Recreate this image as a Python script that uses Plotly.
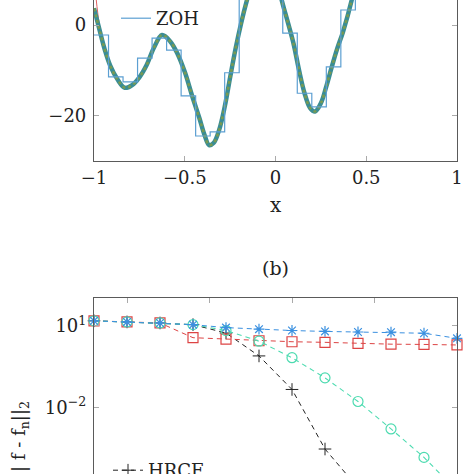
import plotly.graph_objects as go

# ---------------- panel (a): function, interpolant and ZOH ----------------
curve_x = [-1.0, -0.97, -0.94, -0.91, -0.87, -0.83, -0.79, -0.75, -0.71, -0.67,
           -0.625, -0.58, -0.54, -0.50, -0.46, -0.42, -0.39, -0.366, -0.34, -0.31,
           -0.28, -0.25, -0.22, -0.19, -0.157, -0.12, -0.08, -0.04, 0.0, 0.034,
           0.07, 0.10, 0.13, 0.16, 0.19, 0.218, 0.25, 0.28, 0.31, 0.34,
           0.372, 0.42, 0.46, 0.50, 0.55, 0.60, 0.70, 0.80, 0.90, 1.0]
approx_y = [3.7, -1.0, -5.5, -9.0, -12.0, -13.8, -13.2, -11.5, -8.8, -5.0,
            -2.2, -3.6, -6.3, -10.3, -15.5, -20.4, -24.3, -26.4, -25.9, -23.0,
            -18.0, -11.5, -5.2, 0.3, 5.5, 10.5, 13.5, 14.5, 11.5, 5.5,
            0.3, -4.2, -10.0, -15.0, -18.2, -19.0, -17.2, -13.5, -9.2, -5.2,
            -1.5, 5.5, 13.0, 21.0, 30.0, 38.0, 50.0, 58.0, 62.0, 65.0]
exact_y = [10.5, 0.0, -5.3, -9.0, -12.0, -13.8, -13.2, -11.5, -8.8, -5.0,
           -2.2, -3.6, -6.3, -10.3, -15.5, -20.4, -24.3, -26.4, -25.9, -23.0,
           -18.0, -11.5, -5.2, 0.3, 5.5, 10.5, 13.5, 14.5, 11.5, 5.5,
           0.3, -4.2, -10.0, -15.0, -18.2, -19.0, -17.2, -13.5, -9.2, -5.2,
           -1.5, 5.5, 13.0, 21.0, 30.0, 38.0, 50.0, 58.0, 62.0, 65.0]
zoh_edges = [-1.0, -0.92, -0.84, -0.76, -0.68, -0.60, -0.52, -0.44, -0.36, -0.28,
             -0.20, -0.12, -0.04, 0.04, 0.12, 0.20, 0.28, 0.36, 0.44, 0.52,
             0.60, 0.68, 0.76, 0.84, 0.92, 1.0]
zoh_levels = [-2.2, -11.4, -12.5, -7.3, -2.9, -5.5, -15.6, -24.4, -23.5, -10.5,
              7.0, 14.0, 12.0, -1.8, -15.0, -18.0, -9.2, 3.3, 16.0, 32.0,
              45.0, 54.0, 60.0, 63.0, 64.5]
top_xticks = [-1, -0.5, 0, 0.5, 1]
top_xticktext = ["\u22121", "\u22120.5", "0", "0.5", "1"]
top_yticks = [-20, 0, 20]

# ---------------- panel (b): error vs n (log scale) ----------------
n_vals = [6, 10, 14, 18, 22, 26, 30, 34, 38, 42, 46, 50]
err_hrcf = [15.5, 14.1, 12.9, 11.2, 5.5, 0.79, 0.046, 2.95e-4, 1.1e-5, 6e-7, 4e-8, 3e-9]
err_red = [15.5, 14.1, 12.9, 3.7, 3.3, 2.86, 2.63, 2.5, 2.3, 2.14, 2.09, 2.0]
err_green = [15.5, 14.1, 12.9, 11.2, 6.8, 2.75, 0.68, 0.123, 0.0166, 1.62e-3, 1.45e-4, 8.5e-6]
err_blue = [15.5, 14.1, 12.9, 11.2, 8.7, 7.6, 6.8, 6.3, 6.0, 5.9, 5.4, 3.5]
bot_xticks = [10, 20, 30, 40, 50]
bot_yticks = [10, 0.01, 1e-5]
bot_yticktext = ["10<sup>1</sup>", "10<sup>\u22122</sup>", "10<sup>\u22125</sup>"]

W = 474
FONT = "DejaVu Serif"
AX = "#5a5a5a"
TK = "#aaaaaa"

fig = go.Figure()

# panel (a)
fig.add_trace(go.Scatter(x=curve_x, y=exact_y, mode="lines", line=dict(color="#e06060", width=1, shape="spline"),
                         showlegend=False, xaxis="x", yaxis="y"))
fig.add_trace(go.Scatter(x=curve_x, y=approx_y, mode="lines", line=dict(color="#3a8d95", width=4.5, shape="spline"),
                         showlegend=False, xaxis="x", yaxis="y"))
fig.add_trace(go.Scatter(x=curve_x, y=approx_y, mode="lines",
                         line=dict(color="#789a52", width=2.6, shape="spline", dash="3px,3px"),
                         showlegend=False, xaxis="x", yaxis="y"))
fig.add_trace(go.Scatter(x=zoh_edges, y=zoh_levels + [zoh_levels[-1]], mode="lines", name="ZOH",
                         line=dict(color="#5c9fd2", width=1.2, shape="hv"),
                         xaxis="x", yaxis="y", legend="legend"))

# panel (b)
dash = "5px,4px"
fig.add_trace(go.Scatter(x=n_vals, y=err_hrcf, mode="lines+markers", name="HRCF",
                         line=dict(color="#222222", width=1, dash=dash),
                         marker=dict(symbol="cross-thin-open", size=9, color="#222222", line=dict(width=1, color="#222222")),
                         cliponaxis=False, xaxis="x2", yaxis="y2", legend="legend2"))
fig.add_trace(go.Scatter(x=n_vals, y=err_red, mode="lines+markers", showlegend=False,
                         line=dict(color="#dd4444", width=1, dash=dash),
                         marker=dict(symbol="square-open", size=10, color="#dd4444", line=dict(width=1.2)),
                         cliponaxis=False, xaxis="x2", yaxis="y2"))
fig.add_trace(go.Scatter(x=n_vals, y=err_green, mode="lines+markers", showlegend=False,
                         line=dict(color="#4ddbb0", width=1.1, dash=dash),
                         marker=dict(symbol="circle-open", size=10, color="#4ddbb0", line=dict(width=1.2)),
                         cliponaxis=False, xaxis="x2", yaxis="y2"))
fig.add_trace(go.Scatter(x=n_vals, y=err_blue, mode="lines+markers", showlegend=False,
                         line=dict(color="#3a90e0", width=1, dash=dash),
                         marker=dict(symbol="asterisk-open", size=9, color="#3a90e0", line=dict(width=1.2, color="#3a90e0")),
                         cliponaxis=False, xaxis="x2", yaxis="y2"))

xdom = [94 / W, 457 / W]
common = dict(showgrid=False, zeroline=False, showline=True, linecolor=AX, linewidth=1.2,
              ticks="inside", ticklen=5, tickcolor=TK, tickwidth=1,
              tickfont=dict(family=FONT, size=18, color="#222222"))

fig.update_layout(
    width=W, height=W,
    margin=dict(l=0, r=0, t=0, b=0, autoexpand=False),
    paper_bgcolor="white", plot_bgcolor="white",
    font=dict(family=FONT, size=18, color="#222222"),
    xaxis=dict(domain=xdom, range=[-1, 1], tickvals=top_xticks, ticktext=top_xticktext,
               anchor="y", mirror=False, **common),
    yaxis=dict(domain=[1 - 161 / W, 1], range=[-29.9, 5.5], tickvals=top_yticks,
               anchor="x", mirror="ticks", ticklabelstandoff=3, **common),
    xaxis2=dict(domain=xdom, range=[6, 50], tickvals=bot_xticks, side="top",
                showticklabels=False, anchor="y2", mirror=False, **common),
    yaxis2=dict(domain=[0, 1 - 298 / W], type="log", range=[-4.45, 2.03],
                tickvals=bot_yticks, ticktext=bot_yticktext, anchor="x2", mirror="ticks",
                ticklabelstandoff=3, **common),
    legend=dict(x=116 / W, y=1.0, xanchor="left", yanchor="top", bgcolor="rgba(0,0,0,0)",
                borderwidth=0, font=dict(family=FONT, size=18), tracegroupgap=0),
    legend2=dict(x=108 / W, y=1 - 452 / W, xanchor="left", yanchor="top", bgcolor="rgba(0,0,0,0)",
                 borderwidth=0, font=dict(family=FONT, size=18)),
    annotations=[
        dict(text="x", x=275.5 / W, y=1 - 205 / W, xref="paper", yref="paper",
             showarrow=False, xanchor="center", yanchor="middle", font=dict(family=FONT, size=20)),
        dict(text="(b)", x=275.5 / W, y=1 - 268 / W, xref="paper", yref="paper",
             showarrow=False, xanchor="center", yanchor="middle", font=dict(family=FONT, size=19)),
        dict(text="|| f - f<sub>n</sub>||<sub>2</sub>", x=20 / W, y=1 - 440 / W, xref="paper", yref="paper",
             showarrow=False, textangle=-90, xanchor="center", yanchor="middle",
             font=dict(family=FONT, size=18)),
    ],
)

fig.write_html("out.html")
